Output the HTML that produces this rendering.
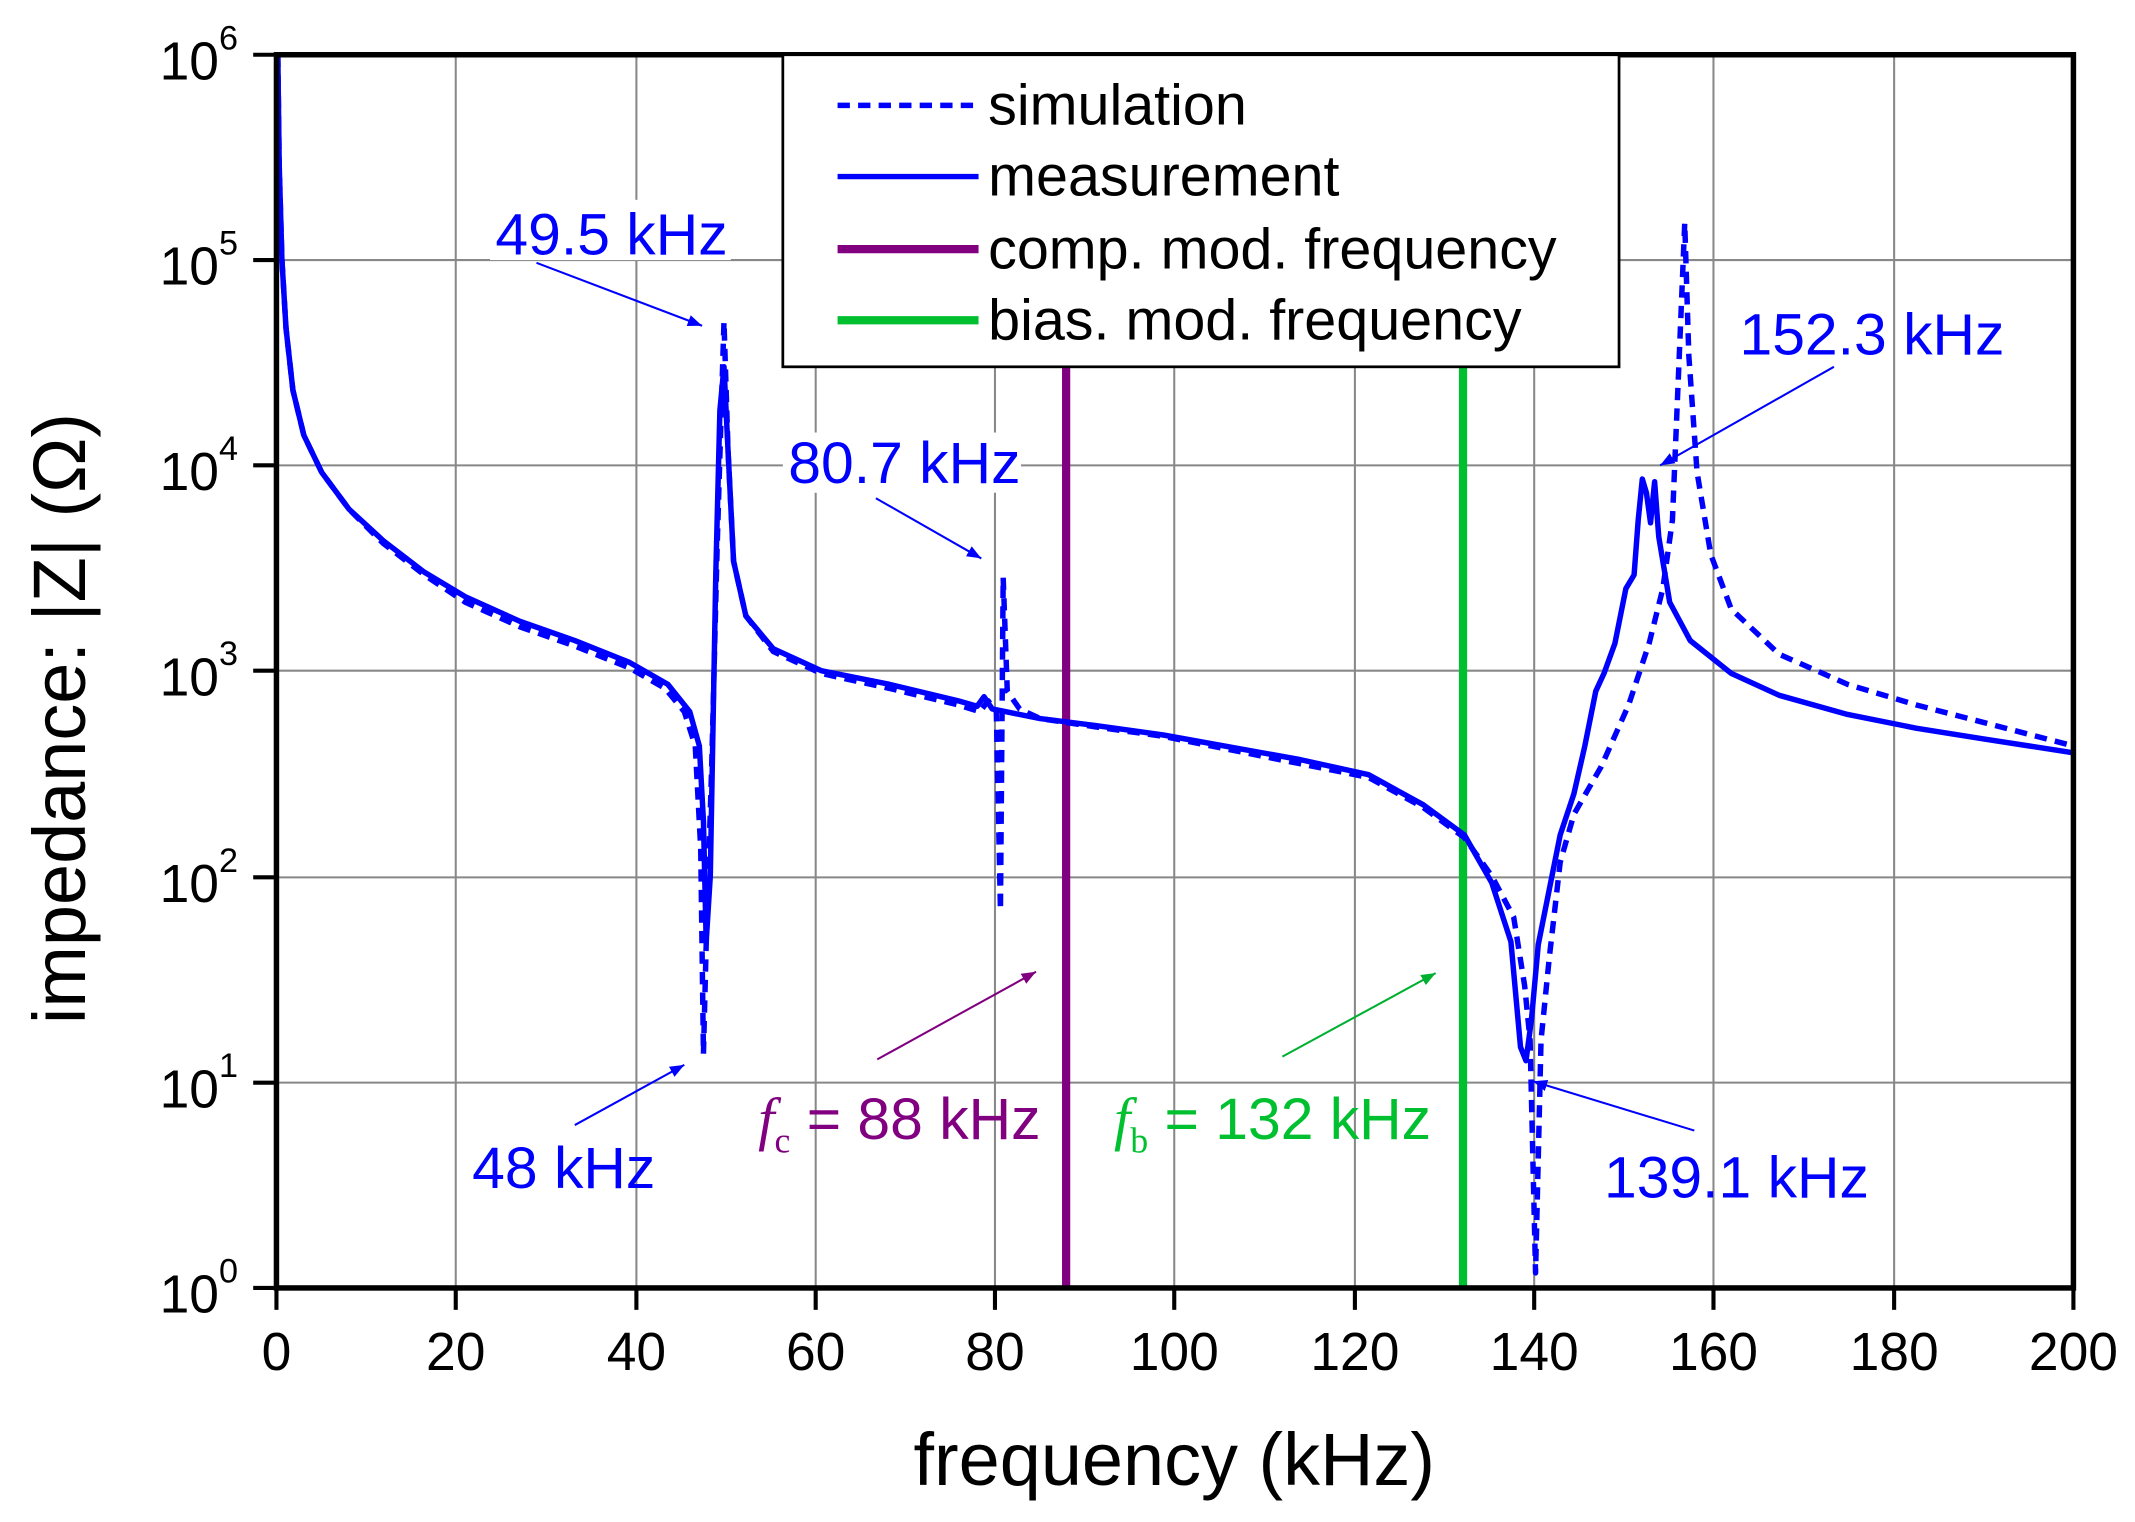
<!DOCTYPE html>
<html><head><meta charset="utf-8"><style>html,body{margin:0;padding:0;background:#fff}svg{display:block}</style></head>
<body>
<svg width="2135" height="1522" viewBox="0 0 1560 1112" preserveAspectRatio="none" xmlns="http://www.w3.org/2000/svg" font-family="Liberation Sans, Arial, sans-serif">
<defs>
<marker id="ab" viewBox="0 0 10 10" refX="10" refY="5" markerWidth="7" markerHeight="7" orient="auto"><path d="M0,1 L10,5 L0,9 z" fill="#0000ff"/></marker>
<marker id="ap" viewBox="0 0 10 10" refX="10" refY="5" markerWidth="7" markerHeight="7" orient="auto"><path d="M0,1 L10,5 L0,9 z" fill="#800080"/></marker>
<marker id="ag" viewBox="0 0 10 10" refX="10" refY="5" markerWidth="7" markerHeight="7" orient="auto"><path d="M0,1 L10,5 L0,9 z" fill="#00b030"/></marker>
</defs>
<g stroke="#888" stroke-width="1.5">
<line x1="333" y1="40" x2="333" y2="941"/><line x1="465" y1="40" x2="465" y2="941"/><line x1="596" y1="40" x2="596" y2="941"/><line x1="727" y1="40" x2="727" y2="941"/><line x1="858" y1="40" x2="858" y2="941"/><line x1="990" y1="40" x2="990" y2="941"/><line x1="1121" y1="40" x2="1121" y2="941"/><line x1="1252" y1="40" x2="1252" y2="941"/><line x1="1384" y1="40" x2="1384" y2="941"/>
<line x1="202" y1="190" x2="1515" y2="190"/><line x1="202" y1="340" x2="1515" y2="340"/><line x1="202" y1="490" x2="1515" y2="490"/><line x1="202" y1="641" x2="1515" y2="641"/><line x1="202" y1="791" x2="1515" y2="791"/>
</g>
<line x1="779" y1="40" x2="779" y2="941" stroke="#800080" stroke-width="6"/>
<line x1="1069" y1="40" x2="1069" y2="941" stroke="#00c030" stroke-width="6"/>
<path fill="none" stroke="#0000ff" stroke-width="4" stroke-linejoin="round" d="M203,40 L204,120 L206,190 L209,240 L214,285 L222,318 L235,345 L255,372 L280,395 L310,418 L340,436 L380,454 L420,468 L460,484 L488,500 L504,520 L511,545 L514,600 L516,688 L519,640 L523,420 L526,300 L529,268 L532,330 L536,410 L545,450 L565,474 L600,490 L650,500 L700,512 L714,516 L719,509 L725,518 L760,525 L800,530 L850,537 L900,546 L950,555 L1000,566 L1040,588 L1070,610 L1090,645 L1104,688 L1111,765 L1115,775 L1119,745 L1124,690 L1132,650 L1140,610 L1150,580 L1158,545 L1166,505 L1172,492 L1180,470 L1188,430 L1194,420 L1197,380 L1200,350 L1203,360 L1206,382 L1209,352 L1212,392 L1220,440 L1235,468 L1265,492 L1300,508 L1350,522 L1400,532 L1450,540 L1515,550"/>
<path fill="none" stroke="#0000ff" stroke-width="4" stroke-dasharray="9,6" stroke-linejoin="round" d="M203,40 L204,120 L206,190 L209,240 L214,285 L222,318 L235,345 L255,372 L280,397 L310,420 L340,440 L380,458 L420,472 L460,488 L486,503 L500,520 L508,545 L512,620 L514,770 L516,690 L520,560 L524,400 L527,300 L529,235 L532,330 L536,410 L545,450 L565,476 L600,492 L650,503 L700,515 L716,520 L722,512 L728,520 L731,665 L733,422 L736,505 L745,518 L760,525 L800,531 L850,538 L900,548 L950,558 L1000,568 L1040,590 L1070,612 L1090,640 L1106,670 L1114,720 L1118,760 L1122,930 L1126,760 L1132,700 L1140,630 L1150,595 L1170,560 L1190,515 L1205,470 L1215,430 L1222,380 L1227,260 L1231,163 L1234,260 L1240,345 L1250,405 L1265,445 L1300,478 L1350,500 L1400,515 L1450,528 L1515,545"/>
<rect x="202" y="40" width="1313" height="901" fill="none" stroke="#000" stroke-width="4"/>
<g stroke="#000" stroke-width="3">
<line x1="202" y1="941" x2="202" y2="957"/><line x1="333" y1="941" x2="333" y2="957"/><line x1="465" y1="941" x2="465" y2="957"/><line x1="596" y1="941" x2="596" y2="957"/><line x1="727" y1="941" x2="727" y2="957"/><line x1="858" y1="941" x2="858" y2="957"/><line x1="990" y1="941" x2="990" y2="957"/><line x1="1121" y1="941" x2="1121" y2="957"/><line x1="1252" y1="941" x2="1252" y2="957"/><line x1="1384" y1="941" x2="1384" y2="957"/><line x1="1515" y1="941" x2="1515" y2="957"/>
<line x1="185" y1="40" x2="202" y2="40"/><line x1="185" y1="190" x2="202" y2="190"/><line x1="185" y1="340" x2="202" y2="340"/><line x1="185" y1="490" x2="202" y2="490"/><line x1="185" y1="641" x2="202" y2="641"/><line x1="185" y1="791" x2="202" y2="791"/><line x1="185" y1="941" x2="202" y2="941"/>
</g>
<g font-size="39" text-anchor="middle" fill="#000">
<text x="202" y="1001">0</text><text x="333" y="1001">20</text><text x="465" y="1001">40</text><text x="596" y="1001">60</text><text x="727" y="1001">80</text><text x="858" y="1001">100</text><text x="990" y="1001">120</text><text x="1121" y="1001">140</text><text x="1252" y="1001">160</text><text x="1384" y="1001">180</text><text x="1515" y="1001">200</text>
</g>
<g font-size="39" text-anchor="end" fill="#000">
<text x="160" y="58">10</text><text x="160" y="208">10</text><text x="160" y="358">10</text><text x="160" y="508">10</text><text x="160" y="659">10</text><text x="160" y="809">10</text><text x="160" y="959">10</text>
</g>
<g font-size="25" fill="#000">
<text x="160" y="36">6</text><text x="160" y="186">5</text><text x="160" y="336">4</text><text x="160" y="486">3</text><text x="160" y="637">2</text><text x="160" y="787">1</text><text x="160" y="937">0</text>
</g>
<text x="858" y="1085" font-size="54" text-anchor="middle">frequency (kHz)</text>
<text transform="translate(62,525) rotate(-90)" font-size="54" text-anchor="middle">impedance: |Z| (Ω)</text>
<rect x="572" y="40" width="611" height="228" fill="#fff" stroke="#000" stroke-width="2"/>
<line x1="612" y1="77" x2="715" y2="77" stroke="#0000ff" stroke-width="4" stroke-dasharray="9,6"/>
<line x1="612" y1="129" x2="715" y2="129" stroke="#0000ff" stroke-width="4"/>
<line x1="612" y1="182" x2="715" y2="182" stroke="#800080" stroke-width="6"/>
<line x1="612" y1="234" x2="715" y2="234" stroke="#00c030" stroke-width="6"/>
<g font-size="42" fill="#000"><text x="722" y="91">simulation</text><text x="722" y="143">measurement</text><text x="722" y="196">comp. mod. frequency</text><text x="722" y="248">bias. mod. frequency</text></g>
<g font-size="43" fill="#0000ff">
<rect x="358" y="146" width="176" height="44" fill="#fff"/>
<text x="362" y="186">49.5 kHz</text>
<rect x="572" y="316" width="174" height="44" fill="#fff"/>
<text x="576" y="353">80.7 kHz</text>
<text x="1271" y="259">152.3 kHz</text>
<text x="345" y="868">48 kHz</text>
<text x="1172" y="875">139.1 kHz</text>
</g>
<g stroke="#0000ff" stroke-width="1.5" fill="none">
<line x1="392" y1="192" x2="513" y2="238" marker-end="url(#ab)"/>
<line x1="640" y1="364" x2="717" y2="408" marker-end="url(#ab)"/>
<line x1="1340" y1="268" x2="1213" y2="340" marker-end="url(#ab)"/>
<line x1="420" y1="822" x2="500" y2="778" marker-end="url(#ab)"/>
<line x1="1238" y1="826" x2="1120" y2="790" marker-end="url(#ab)"/>
</g>
<line x1="641" y1="774" x2="757" y2="710" stroke="#800080" stroke-width="1.5" marker-end="url(#ap)"/>
<line x1="937" y1="772" x2="1049" y2="711" stroke="#00b030" stroke-width="1.5" marker-end="url(#ag)"/>
<text x="554" y="832" font-size="43" fill="#800080"><tspan font-family="Liberation Serif, serif" font-style="italic">f</tspan><tspan font-family="Liberation Serif, serif" font-size="26" dy="10">c</tspan><tspan dy="-10"> = 88 kHz</tspan></text>
<text x="814" y="832" font-size="43" fill="#00c030"><tspan font-family="Liberation Serif, serif" font-style="italic">f</tspan><tspan font-family="Liberation Serif, serif" font-size="26" dy="10">b</tspan><tspan dy="-10"> = 132 kHz</tspan></text>
</svg>
</body></html>
